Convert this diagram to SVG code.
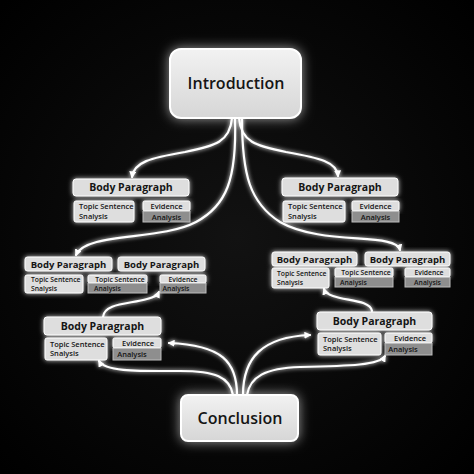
<svg xmlns="http://www.w3.org/2000/svg" width="474" height="474" viewBox="0 0 474 474">
<defs>
<radialGradient id="bg" cx="50%" cy="50%" r="70%">
<stop offset="0" stop-color="#121212"/>
<stop offset="1" stop-color="#000"/>
</radialGradient>
<linearGradient id="bigfill" x1="0" y1="0" x2="0" y2="1">
<stop offset="0" stop-color="#f2f2f2"/>
<stop offset="1" stop-color="#d6d6d6"/>
</linearGradient>
<filter id="glow" x="-30%" y="-30%" width="160%" height="160%">
<feGaussianBlur in="SourceAlpha" stdDeviation="2.5" result="b"/>
<feFlood flood-color="#ffffff" flood-opacity="0.8"/>
<feComposite in2="b" operator="in" result="g"/>
<feMerge><feMergeNode in="g"/><feMergeNode in="SourceGraphic"/></feMerge>
</filter>
<filter id="bigglow" x="-40%" y="-40%" width="180%" height="180%">
<feGaussianBlur in="SourceAlpha" stdDeviation="6" result="b"/>
<feFlood flood-color="#ffffff" flood-opacity="0.6"/>
<feComposite in2="b" operator="in" result="g"/>
<feMerge><feMergeNode in="g"/><feMergeNode in="SourceGraphic"/></feMerge>
</filter>
<filter id="lineglow" x="-20%" y="-20%" width="140%" height="140%">
<feGaussianBlur in="SourceGraphic" stdDeviation="2" result="b"/>
<feMerge><feMergeNode in="b"/><feMergeNode in="SourceGraphic"/></feMerge>
</filter>
<marker id="arr" viewBox="0 0 10 10" refX="8" refY="5" markerWidth="7" markerHeight="7" markerUnits="userSpaceOnUse" orient="auto">
<path d="M0,0 L10,5 L0,10 z" fill="#ffffff"/>
</marker>
<style>
.box{fill:#dedede;stroke:#ffffff;stroke-width:1;filter:url(#glow)}
.dark{fill:#8e8e8e;stroke:#bdbdbd;stroke-width:1}
.big{fill:url(#bigfill);stroke:#ffffff;stroke-width:2;filter:url(#bigglow)}
.t{font-family:"Open Sans","DejaVu Sans",sans-serif;fill:#151515}
.title{font-size:16px;font-weight:600}
.hd{font-size:10.5px;font-weight:bold}
.hds{font-size:9.5px;font-weight:bold}
.sm{font-size:7.5px;font-weight:600}
.xs{font-size:6.8px;font-weight:600}
.con{fill:none;stroke:#ffffff;stroke-width:2.2;stroke-linecap:round;marker-end:url(#arr)}
</style>
</defs>
<rect width="474" height="474" fill="url(#bg)"/>

<g id="connectors" filter="url(#lineglow)">
<path class="con" d="M232,118 C230,142 215,146 185,152 C150,158 134,162 132,177"/>
<path class="con" d="M239,118 C241,142 256,146 286,152 C320,158 337,162 338,176"/>
<path class="con" d="M235,118 C237,180 226,206 196,222 C160,241 86,232 76,255"/>
<path class="con" d="M242,118 C242,175 250,203 280,222 C322,246 396,232 400,250"/>
<path class="con" d="M103,317 C104,303 130,304 147,299 C154,297 157,296 159,292"/>
<path class="con" d="M372,311 C370,300 346,301 333,296 C327,294 325,292 324,289"/>
<path class="con" d="M237,395 C237,362 222,345 169,343"/>
<path class="con" d="M243,395 C243,358 262,337 310,335"/>
<path class="con" d="M233,395 C230,377 215,371 180,371 C140,371 105,372 99,361"/>
<path class="con" d="M247,395 C250,377 265,368 300,367 C350,366 380,365 385,356"/>
</g>

<g id="introduction">
<rect class="big" x="170" y="49" width="131" height="69" rx="11"/>
<text class="t title" x="236" y="89" text-anchor="middle">Introduction</text>
</g>

<g id="conclusion">
<rect class="big" x="181" y="395" width="117" height="46" rx="7"/>
<text class="t title" x="240" y="424" text-anchor="middle">Conclusion</text>
</g>

<g id="bp-top-left">
<rect class="box" x="73" y="179" width="116" height="17" rx="3"/>
<text class="t hd" x="131" y="191" text-anchor="middle">Body Paragraph</text>
<rect class="box" x="74" y="201" width="60" height="21" rx="2"/>
<text class="t sm" x="79" y="209">Topic Sentence</text>
<text class="t sm" x="79" y="219">Snalysis</text>
<rect class="box" x="143" y="201" width="47" height="10" rx="1.5"/>
<text class="t sm" x="166.5" y="208.6" text-anchor="middle">Evidence</text>
<rect class="dark" x="143" y="211.5" width="47" height="10.5"/>
<text class="t sm" x="166.5" y="219.5" text-anchor="middle">Analysis</text>
</g>

<g id="bp-top-right">
<rect class="box" x="282" y="178" width="116" height="18" rx="3"/>
<text class="t hd" x="340" y="191" text-anchor="middle">Body Paragraph</text>
<rect class="box" x="283" y="201" width="62" height="21" rx="2"/>
<text class="t sm" x="288" y="209">Topic Sentence</text>
<text class="t sm" x="288" y="219">Snalysis</text>
<rect class="box" x="352" y="201" width="47" height="10" rx="1.5"/>
<text class="t sm" x="375.5" y="208.6" text-anchor="middle">Evidence</text>
<rect class="dark" x="352" y="211.5" width="47" height="10.5"/>
<text class="t sm" x="375.5" y="219.5" text-anchor="middle">Analysis</text>
</g>

<g id="bp-mid-left-a">
<rect class="box" x="25" y="257" width="87" height="14" rx="2.5"/>
<text class="t hds" x="68.5" y="267.5" text-anchor="middle">Body Paragraph</text>
<rect class="box" x="25" y="275" width="58" height="18" rx="2"/>
<text class="t xs" x="31" y="282">Topic Sentence</text>
<text class="t xs" x="31" y="290.5">Snalysis</text>
</g>

<g id="bp-mid-left-b">
<rect class="box" x="118" y="257" width="87" height="14" rx="2.5"/>
<text class="t hds" x="161.5" y="267.5" text-anchor="middle">Body Paragraph</text>
<rect class="box" x="88" y="275" width="59" height="8" rx="1.5"/>
<text class="t xs" x="120" y="281.5" text-anchor="middle">Topic Sentence</text>
<rect class="dark" x="88" y="283.5" width="59" height="9.5"/>
<text class="t xs" x="94" y="290.5">Analysis</text>
<rect class="box" x="160" y="275" width="46" height="8" rx="1.5"/>
<text class="t xs" x="183" y="281.5" text-anchor="middle">Evidence</text>
<rect class="dark" x="160" y="283.5" width="46" height="9.5"/>
<text class="t xs" x="176" y="290.5" text-anchor="middle">Analysis</text>
</g>

<g id="bp-mid-right-a">
<rect class="box" x="272" y="252" width="85" height="14" rx="2.5"/>
<text class="t hds" x="314.5" y="262.5" text-anchor="middle">Body Paragraph</text>
<rect class="box" x="272" y="268" width="57" height="20" rx="2"/>
<text class="t xs" x="277" y="276">Topic Sentence</text>
<text class="t xs" x="277" y="284.5">Snalysis</text>
</g>

<g id="bp-mid-right-b">
<rect class="box" x="365" y="252" width="85" height="14" rx="2.5"/>
<text class="t hds" x="407.5" y="262.5" text-anchor="middle">Body Paragraph</text>
<rect class="box" x="335" y="268" width="58" height="9" rx="1.5"/>
<text class="t xs" x="366" y="274.8" text-anchor="middle">Topic Sentence</text>
<rect class="dark" x="335" y="277.5" width="58" height="9.5"/>
<text class="t xs" x="340" y="284.5">Analysis</text>
<rect class="box" x="405" y="268" width="45" height="9" rx="1.5"/>
<text class="t xs" x="429" y="274.8" text-anchor="middle">Evidence</text>
<rect class="dark" x="405" y="277.5" width="45" height="9.5"/>
<text class="t xs" x="427.5" y="284.5" text-anchor="middle">Analysis</text>
</g>

<g id="bp-bottom-left">
<rect class="box" x="44" y="317" width="117" height="18" rx="3"/>
<text class="t hd" x="102.5" y="330" text-anchor="middle">Body Paragraph</text>
<rect class="box" x="45" y="338" width="62" height="22" rx="2"/>
<text class="t sm" x="50" y="346.5">Topic Sentence</text>
<text class="t sm" x="50" y="356">Snalysis</text>
<rect class="box" x="113" y="338" width="48" height="10" rx="1.5"/>
<text class="t sm" x="138" y="345.5" text-anchor="middle">Evidence</text>
<rect class="dark" x="113" y="348.5" width="48" height="11.5"/>
<text class="t sm" x="132" y="357" text-anchor="middle">Analysis</text>
</g>

<g id="bp-bottom-right">
<rect class="box" x="317" y="312" width="115" height="18" rx="3"/>
<text class="t hd" x="374.5" y="325" text-anchor="middle">Body Paragraph</text>
<rect class="box" x="318" y="333" width="63" height="22" rx="2"/>
<text class="t sm" x="323" y="341.5">Topic Sentence</text>
<text class="t sm" x="323" y="351">Snalysis</text>
<rect class="box" x="385" y="333" width="47" height="10" rx="1.5"/>
<text class="t sm" x="410" y="340.5" text-anchor="middle">Evidence</text>
<rect class="dark" x="385" y="343.5" width="47" height="11.5"/>
<text class="t sm" x="403" y="352" text-anchor="middle">Analysis</text>
</g>
</svg>
